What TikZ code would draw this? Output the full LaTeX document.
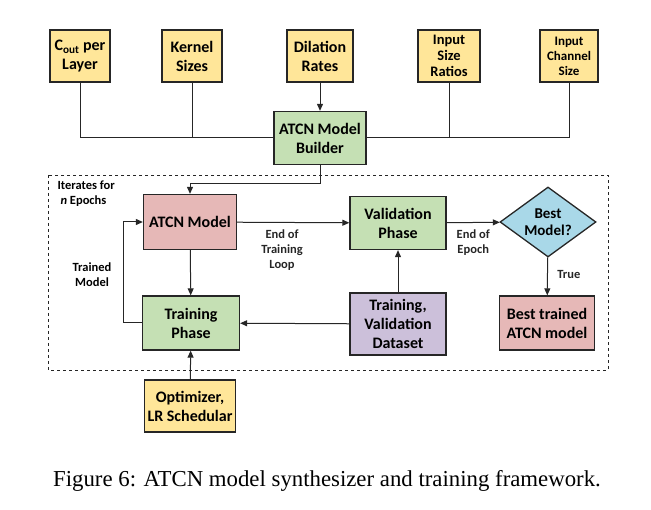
\documentclass[tikz,border=0pt]{standalone}
\usepackage{fontspec}
\setmainfont{Liberation Serif}
\newfontfamily\boxfont{Carlito}
\usetikzlibrary{shapes.geometric,arrows.meta}
\definecolor{inyellow}{HTML}{FFE699}
\definecolor{stepgreen}{HTML}{C5E0B4}
\definecolor{modelpink}{HTML}{E6B8B7}
\definecolor{testblue}{HTML}{A9D8E8}
\definecolor{datapurple}{HTML}{CCC0DA}
\begin{document}
\begin{tikzpicture}[
    x=1pt, y=-1pt,
    box/.style={
        rectangle, draw=black!85, line width=1.3pt,
        align=center, inner sep=1pt,
        font=\boxfont\bfseries\fontsize{16}{19}\selectfont
    },
    arrow/.style={-{Triangle[length=7pt,width=6pt]}, line width=1pt, black!85},
    line/.style={line width=1pt, black!85},
    lbl/.style={font=\boxfont\bfseries\fontsize{12.5}{15}\selectfont, align=center}
]
\useasboundingbox (0,0) rectangle (651,510);

% --- Inputs ---
\node[box, fill=inyellow, minimum width=60pt, minimum height=52pt] (cout) at (80,56) {C\textsubscript{out} per\\Layer};
\node[box, fill=inyellow, minimum width=60pt, minimum height=52pt] (kernel) at (192,56) {Kernel\\Sizes};
\node[box, fill=inyellow, minimum width=66pt, minimum height=52pt] (dilation) at (320,56) {Dilation\\Rates};
\node[box, fill=inyellow, minimum width=62pt, minimum height=52pt, font=\boxfont\bfseries\fontsize{14.5}{16}\selectfont] (ratio) at (449,56) {Input\\Size\\Ratios};
\node[box, fill=inyellow, minimum width=58pt, minimum height=52pt, font=\boxfont\bfseries\fontsize{13}{15}\selectfont] (chan) at (569,56) {Input\\Channel\\Size};
\node[box, fill=stepgreen, minimum width=92pt, minimum height=53pt] (builder) at (320,138) {ATCN Model\\Builder};

% --- Dashed loop ---
\draw[dashed, black!85] (48,175) rectangle (608,370);
\node[lbl, anchor=north west, align=left] (iter) at (54,177) {Iterates for\\\hspace*{3pt}\textit{n} Epochs};

\node[box, fill=modelpink, minimum width=93pt, minimum height=55pt] (model) at (190,222) {ATCN Model};
\node[box, fill=stepgreen, minimum width=97pt, minimum height=54pt] (train) at (191,323) {Training\\Phase};
\node[box, fill=stepgreen, minimum width=96pt, minimum height=53pt] (valid) at (398,223) {Validation\\Phase};
\node[box, fill=datapurple, minimum width=96pt, minimum height=62pt] (data) at (398,324) {Training,\\Validation\\Dataset};
\node[diamond, draw=black!85, line width=1.3pt, fill=testblue, aspect=1.4, minimum width=96pt, minimum height=70pt, align=center, inner sep=0pt, font=\boxfont\bfseries\fontsize{15}{17}\selectfont] (best) at (548,222) {Best\\Model?};
\node[box, fill=modelpink, minimum width=95pt, minimum height=54pt] (final) at (547,323) {Best trained\\ATCN model};
\node[box, fill=inyellow, minimum width=91pt, minimum height=52pt] (optim) at (190,406) {Optimizer,\\LR Schedular};

% --- Connectors ---
\draw[line] (cout.south) |- (builder.west);
\draw[line] (kernel.south) -- (kernel.south |- builder.west);
\draw[arrow] (dilation) -- (builder);
\draw[line] (chan.south) |- (builder.east);
\draw[line] (ratio.south) -- (ratio.south |- builder.east);
\draw[arrow] (builder.south) -- ++(0,18) -| (model.north);
\draw[arrow] (model) -- (train);
\draw[arrow] (model) -- node[lbl, below=3pt, pos=0.4] {End of\\Training\\Loop} (valid);
\draw[arrow] (train.west) -- ++(-18,0) |- (model.west);
\node[lbl] (trained) at (92,275) {Trained\\Model};
\draw[arrow] (data) -- (train);
\draw[arrow] (data) -- (valid);
\draw[arrow] (valid) -- node[lbl, below=3pt] {End of\\Epoch} (best);
\draw[arrow] (best) -- node[lbl, right=6pt, pos=0.45] {True} (final);
\draw[arrow] (optim) -- (train);

\node[font=\fontsize{22.8}{25}\selectfont] (cap) at (327,481) {Figure 6: ATCN model synthesizer and training framework.};
\end{tikzpicture}
\end{document}
